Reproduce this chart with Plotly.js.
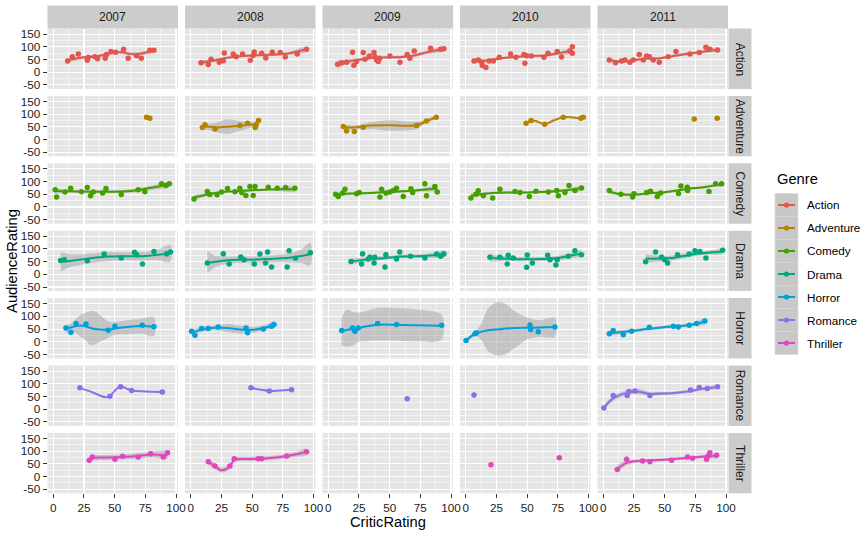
<!DOCTYPE html>
<html>
<head>
<meta charset="utf-8">
<script src="https://cdn.plot.ly/plotly-3.0.1.min.js"></script>
<style>html,body{margin:0;padding:0;background:#fff;}#chart{width:867px;height:534px;}</style>
</head>
<body>
<div id="chart"></div>
<script>
// ---------- data ----------
const years = [2007, 2008, 2009, 2010, 2011];
const genres = ["Action", "Adventure", "Comedy", "Drama", "Horror", "Romance", "Thriller"];
const genreColors = ["#E3564E", "#B58300", "#43A000", "#00A87F", "#00A0D8", "#8E6FE8", "#E146BE"];
const xTicks = [0, 25, 50, 75, 100];
const yTicks = [-50, 0, 50, 100, 150];
const xTickText = ["0", "25", "50", "75", "100"];
const yTickText = ["-50", "0", "50", "100", "150"];

// Action
const actionX = [
  [11.7,15.5,20.4,27.7,28.5,33.9,36.1,42.3,43.4,47,50.8,57.3,61,67.9,71.7,78.7,82],
  [8.3,14.3,16.5,23.2,26.5,27.3,34.6,37,42.2,48.5,50.9,51.7,57.7,61.1,66.4,72.9,77,86.7,94.3],
  [7.6,10.9,15,19.8,20.9,23,28.5,29.9,33.4,37.2,38,39.4,40.7,42,50.2,58.4,64.3,66.5,70,83.3,91.5,94.2],
  [6.7,10.2,12.9,13.5,16.4,19.1,22.4,27.3,36.5,40.9,47.4,48.2,49.6,53.4,63.7,67,74.5,78,84.8,86.8,86.8],
  [4.9,10,14.9,17.6,21.7,24.4,29.3,32.6,35.3,37.5,40.7,45.6,52.9,59.2,70.6,78.2,83.6,86.9,93.1]
];
const actionY = [
  [44,61,72,47,58,61,53,55,70,81,78,90,55,65,55,86,86],
  [37.5,30,51,39,45,75.6,72,61,72,47,66,79.5,74,56,78,77,60,72,90],
  [31,37.5,39,78,27,41.5,77,50.7,64,77,61,48,41.5,55,64,39,70,55,83,94,90,92],
  [44,48,39,26,18,44,44,58.5,71.6,58.5,70,35,65,64,58.5,74,81,60,83,100,74],
  [48,37.5,44,48,39,48,70,48,64,61,48,39,61,81,72,77,98,90,87]
];
const actionFitX = [
  [11.7,20,28,36,44,50,57,62,70,76,82],
  [8.3,20,30,40,50,60,70,80,94.3],
  [7.6,15,23,34,45,58,70,80,94.2],
  [6.7,15,25,35,45,55,65,75,86.8],
  [4.9,15,25,35,45,55,65,75,85,93.1]
];
const actionFitY = [
  [47,55,60,63,72,78,78,72,72,78,86],
  [38,47,57,63,66,68,70,74,90],
  [32,41,48,55,58,59,66,78,91],
  [45,45,52,58,62,64,66,74,84],
  [47,42,47,54,54,62,70,76,83,88]
];
const actionFitLo = [
  [37,48,54,57,66,72,72,66,65,70,76],
  [28,41,52,58,61,63,65,68,80],
  [14,31,42,50,53,53,60,71,82],
  [35,38,46,53,57,59,61,68,74],
  [39,37,42,49,49,57,65,71,77,80]
];
const actionFitHi = [
  [57,62,66,69,78,84,84,78,79,86,96],
  [48,53,62,68,71,73,75,80,100],
  [50,51,54,60,63,65,72,85,100],
  [55,52,58,63,67,69,71,80,94],
  [55,47,52,59,59,67,75,81,89,96]
];

// Adventure
const adventureX = [[76,78.7],[9.4,11.6,19.7,40,46.2,52.5,53.3,55.2],[12.2,14.9,21.2,28.5,72,80,88],[49.1,53.2,64.3,79.4,93.8,95.7],[74.1,92.8]];
const adventureY = [[88,84],[47,58,42,55,64,47,58,75],[51,34,31.5,48.5,55,73.5,88],[64,75,60,88,84,88],[81,84]];
const adventureFitX = [null,[9.4,15,20,30,40,47,53,55.2],[12.2,23,34,50,72,80,88],[49.1,53.2,57.2,64.3,71.3,79.4,86.1,93.8,95.7],null];
const adventureFitY = [null,[52,50,48,50,54,58,62,73],[48,48,55,56,56,73,88],[64,75,73,60,75,88,88,84,88],null];
const adventureFitLo = [null,[40,38,30,22,35,45,50,62],[38,40,42,35,42,66,82],null,null];
const adventureFitHi = [null,[64,62,66,80,73,70,74,84],[58,56,68,76,70,80,94],null,null];

// Comedy
const comedyX = [
  [1.6,2.7,9.5,14.1,23,27.7,30.4,32.6,40.2,42.9,55.4,69.2,74.6,88.2,91.8,94.5],
  [2.6,13.5,15.6,21.4,25.1,29.9,36,40,41.5,44.9,48.2,50.9,52.3,63.1,70.4,77.2,84.8],
  [6,8.1,11.7,13.6,23.1,25.2,42.1,43.4,47,50.2,52.9,55.6,61.1,67.3,68.7,78.7,80,86.8,88.8],
  [4.2,8.3,10.2,14.3,21.9,27.8,40.1,44.2,51.8,57.2,67.3,74.1,75.4,80.8,84.1,89,94.3],
  [4.9,14.4,23.9,25,35.3,38.5,44,46.7,61.3,63.2,68.4,68.7,86.1,91.5,96.4]
];
const comedyY = [
  [68,39,58.5,74,60,77,44,58.5,54.6,73,49,68,60,91,85,91],
  [31,61,49,48,58.5,73,60,74,57,45,81,45,81,78,74,77,74],
  [50.5,41,54.6,70,52,57,39,70,54.6,58.5,65,74,41,72,57,91,44,81,58.5],
  [35,50.5,64,44,35,70,61,57,41,62,58.5,65,44,57,85,65,75],
  [65,50.5,39,52,57,62,41,54.6,53,83,78,65,61,91,91]
];
const comedyFitX = [
  [1.6,10,20,30,40,50,60,70,80,94.5],
  [2.6,10,20,30,40,50,60,70,84.8],
  [6,15,25,35,45,55,65,75,88.8],
  [4.2,15,25,35,45,55,65,75,85,94.3],
  [4.9,12,20,30,40,50,60,70,80,90,96.4]
];
const comedyFitY = [
  [63,62,61,60,60,60,62,67,76,88],
  [37,45,55,61,63,66,68,70,70],
  [50,52,54,55,58,60,63,67,73],
  [45,52,56,57,57,58,60,63,68,74],
  [60,52,48,50,55,58,65,72,77,84,90]
];
const comedyFitLo = [
  [52,55,55,54,54,54,55,59,68,78],
  [25,38,49,56,58,61,63,64,60],
  [42,46,49,50,53,55,58,61,64],
  [35,46,51,52,52,53,55,58,62,64],
  [50,46,43,45,50,53,60,67,72,78,80]
];
const comedyFitHi = [
  [74,69,67,66,66,66,69,75,84,98],
  [49,52,61,66,68,71,73,76,80],
  [58,58,59,60,63,65,68,73,82],
  [55,58,61,62,62,63,65,68,74,84],
  [70,58,53,55,60,63,70,77,82,90,100]
];

// Drama
const dramaX = [
  [6,9,27.7,41.5,55.4,66.2,67.9,72.7,82,92.3,95.5],
  [13.5,26.5,31.3,40.8,43.4,51.7,56.3,60.9,62.6,65.8,78.5,80.1,85.2,97.4],
  [18.5,27.1,27.9,32.6,33.9,37.3,37.9,46.2,46.9,55.6,58.2,67,78.7,88.2,91.5,94.2],
  [19.7,27.8,33.8,34.6,38.7,49.6,50.1,54.2,66.7,68.6,73.4,74.5,83.5,88.9,94.3],
  [34.5,42.6,47.5,50,52.4,60.5,70,74.6,78.7,83.6,97.2]
];
const dramaY = [
  [55,58,54,80,64,87,77,41,90.5,81,88],
  [44.6,81,40.7,68,57.7,40.7,80,44.6,88,29,29,93,63,85],
  [51,40.7,81,60,67,44.6,67,29,77.4,60,88,71,64,80,71,81],
  [67,67,40.7,75,64,27.6,76,44.6,75,57.7,36.7,57.7,71,93,77.4],
  [50,88,67,57.7,44.6,77.4,80,93,90.5,64,94.5]
];
const dramaFitX = [
  [6,15,25,35,45,55,65,75,85,95.5],
  [13.5,20,30,40,50,60,70,80,90,97.4],
  [18.5,30,40,50,58,70,80,94.2],
  [19.7,30,40,50,60,70,80,90,94.3],
  [34.5,45,55,65,75,85,97.2]
];
const dramaFitY = [
  [50,54,60,66,70,71,71,72,77,82],
  [45,50,56,58,58,60,62,65,72,80],
  [51,58,62,66,70,71,73,80],
  [64,62,60,60,60,62,68,78,82],
  [62,62,64,72,80,85,90]
];
const dramaFitLo = [
  [12,30,40,48,52,55,55,55,56,50],
  [5,28,42,45,46,47,48,48,45,35],
  [40,50,55,59,63,64,65,68],
  [50,52,52,52,52,54,58,66,68],
  [45,50,54,62,72,77,80]
];
const dramaFitHi = [
  [88,78,80,84,88,87,87,89,98,116],
  [95,72,70,71,70,73,76,82,99,125],
  [62,66,69,73,77,78,81,92],
  [78,72,68,68,68,70,78,90,96],
  [79,74,74,82,88,93,100]
];

// Horror
const horrorX = [
  [10.3,14.4,18.5,26.6,44.8,50.2,72.5,82],
  [0.7,3.4,8.8,14.2,22.3,45,46.3,59.1,65.9,67.8],
  [10.9,19.8,21.7,24.4,40.2,55.6,92.3],
  [0.2,7.5,8.8,52.3,52.8,59,72.6],
  [4.9,8.1,16.3,23.1,37.5,57,61.1,70,76,82.8]
];
const horrorY = [
  [54,37,72,70,45,61,65,59],
  [41,26,52,52,58.5,54.6,35,50.5,61,67.7],
  [44,54.6,41,54.6,71.6,67.7,65],
  [5,32,35,66,48,39,58.5],
  [32,44,28,41,57,61,58.5,65,71.6,82]
];
const horrorFitX = [
  [10.3,14,18.5,22,26.6,30,34,38,44.8,50.2,60,72.5,82],
  [0.7,5,10,20,30,40,50,60,67.8],
  [10.9,15,19.8,24.4,30,40.2,55.6,70,92.3],
  [0.2,4,8,13,18,25,32,40,50,60,72.6],
  [4.9,15,25,35,45,55,65,75,82.8]
];
const horrorFitY = [
  [50,56,62,64,60,55,50,48,48,52,58,62,58],
  [36,42,50,55,54,48,47,55,67],
  [40,46,50,53,60,67,67,65,63],
  [5,20,32,40,45,48,52,54,55,56,58],
  [33,38,43,50,55,60,63,70,80]
];
const horrorFitLo = [
  [35,40,34,20,5,-12,-10,0,16,28,30,32,22],
  [25,32,40,45,38,32,35,45,55],
  [-15,-20,-15,0,2,5,5,2,8],
  [-4,12,24,5,-35,-54,-50,-25,10,20,20],
  [22,30,36,44,49,53,56,62,68]
];
const horrorFitHi = [
  [65,72,90,105,115,120,120,105,80,78,85,92,98],
  [47,52,60,65,70,64,59,65,79],
  [95,127,118,114,120,133,133,128,107],
  [14,28,40,75,130,156,150,120,95,85,95],
  [44,46,50,56,61,67,70,78,92]
];

// Romance
const romanceX = [[21.7,46.1,54.8,63.8,88.8],[49,64,82.1],[64.3],[6.7],[0.5,8.1,19.5,20.9,25.8,38,71.1,78.2,84.7,93.1]];
const romanceY = [[84,51,88,73.5,68],[84,72,76],[40.7],[56],[5,54,54,70,72,54,75,85,81,88]];
const romanceFitX = [[21.7,30,38,42.3,46.1,50,54.8,60,63.8,75,88.8],[49,56,64,72,82.1],null,null,[0.5,5,10,15,20,25,30,38,50,60,71,80,93.1]];
const romanceFitY = [[84,70,54,47,51,72,90,80,73.5,70,68],[84,77,72,73,76],null,null,[5,30,48,58,65,70,68,60,62,65,71,79,87]];
const romanceFitLo = [null,null,null,null,[-5,20,38,48,55,60,58,52,56,59,65,73,80]];
const romanceFitHi = [null,null,null,null,[15,40,58,68,75,80,78,68,68,71,77,85,94]];

// Thriller
const thrillerX = [[29.3,31.8,50.2,56.5,69.2,79.3,89.6,93.1],[14.3,19.7,31.9,35.4,55,57.7,78.1,94.3],null,[20.5,76.2],[11.4,19,32,38,55.6,68.7,72.7,84.1,85.5,86.8,92.3]];
const thrillerY = [[64,77,68,79.5,77,90,77,94],[58.5,41.5,41.5,70,70,70,81,98],null,[46.7,74],[28,67.7,61,58.5,64,77,72,67.7,81,94,83.5]];
const thrillerFitX = [[29.3,32,40,50,60,70,80,93.1],[14.3,19.7,24,28,31.9,35.4,45,55,65,78.1,86,94.3],null,null,[11.4,18,25,35,45,55,65,75,85,92.3]];
const thrillerFitY = [[64,73,75,76,78,82,87,84],[58,41,26,28,40,66,69,70,73,81,88,97],null,null,[30,52,60,63,65,68,72,76,80,82]];
const thrillerFitLo = [[52,62,65,66,68,71,76,70],[46,31,16,18,30,56,61,62,65,72,78,84],null,null,[15,42,53,57,59,62,66,70,73,72]];
const thrillerFitHi = [[76,84,85,86,88,93,98,98],[70,51,36,38,50,76,77,78,81,90,98,110],null,null,[45,62,67,69,71,74,78,82,87,92]];

const pointsX = [actionX, adventureX, comedyX, dramaX, horrorX, romanceX, thrillerX];
const pointsY = [actionY, adventureY, comedyY, dramaY, horrorY, romanceY, thrillerY];
const fitsX = [actionFitX, adventureFitX, comedyFitX, dramaFitX, horrorFitX, romanceFitX, thrillerFitX];
const fitsY = [actionFitY, adventureFitY, comedyFitY, dramaFitY, horrorFitY, romanceFitY, thrillerFitY];
const fitsLo = [actionFitLo, adventureFitLo, comedyFitLo, dramaFitLo, horrorFitLo, romanceFitLo, thrillerFitLo];
const fitsHi = [actionFitHi, adventureFitHi, comedyFitHi, dramaFitHi, horrorFitHi, romanceFitHi, thrillerFitHi];

// ---------- layout geometry ----------
const W = 867, H = 534;
const FONT = "Liberation Sans, Arial, sans-serif";
const colLeft = 47.5, colW = 130.5, colGap = 7;
const rowTop = 28.5, rowH = 60.4, rowGap = 7;
const stripH = 23;
const px = v => v / W;
const py = v => 1 - v / H;

const traces = [];
const shapes = [];
const annotations = [];
const layout = {
  width: W, height: H,
  margin: {l: 0, r: 0, t: 0, b: 0},
  paper_bgcolor: "#FFFFFF",
  plot_bgcolor: "#E5E5E5",
  showlegend: false,
  font: {family: FONT, color: "#1A1A1A"},
  shapes: shapes,
  annotations: annotations
};

genres.forEach((g, r) => {
  years.forEach((yr, c) => {
    const k = r * years.length + c + 1;
    const sfx = k === 1 ? "" : String(k);
    const xa = "x" + sfx, ya = "y" + sfx;
    // empty trace so every panel is drawn, even without data
    traces.push({type: "scatter", mode: "markers", xaxis: xa, yaxis: ya, x: [null], y: [null], hoverinfo: "skip"});
    const fx = fitsX[r][c], fy = fitsY[r][c], lo = fitsLo[r][c], hi = fitsHi[r][c];
    if (fx && lo && hi) {
      traces.push({
        type: "scatter", mode: "lines", xaxis: xa, yaxis: ya,
        x: fx.concat(fx.slice().reverse()),
        y: hi.concat(lo.slice().reverse()),
        fill: "toself", fillcolor: "rgba(153,153,153,0.45)",
        line: {width: 0, shape: "spline", smoothing: 0.8}, hoverinfo: "skip"
      });
    }
    if (fx) {
      traces.push({
        type: "scatter", mode: "lines", xaxis: xa, yaxis: ya,
        x: fx, y: fy,
        line: {color: genreColors[r], width: 2, shape: "spline", smoothing: 0.8}, hoverinfo: "skip"
      });
    }
    if (pointsX[r][c]) {
      traces.push({
        type: "scatter", mode: "markers", xaxis: xa, yaxis: ya,
        x: pointsX[r][c], y: pointsY[r][c],
        marker: {color: genreColors[r], size: 5.5, line: {width: 0}}
      });
    }
    const left = colLeft + c * (colW + colGap);
    const top = rowTop + r * (rowH + rowGap);
    const showX = r === genres.length - 1;
    const showY = c === 0;
    layout["xaxis" + sfx] = {
      domain: [px(left), px(left + colW)], anchor: ya,
      range: [-4.7, 101.6], tickmode: "array", tickvals: xTicks, ticktext: xTickText,
      showticklabels: showX, ticks: showX ? "outside" : "", ticklen: 4, tickwidth: 1, tickcolor: "#333333",
      tickfont: {family: FONT, size: 11.7, color: "#222222"},
      showgrid: true, gridcolor: "#FFFFFF", gridwidth: 1.1, zeroline: false, showline: false,
      minor: {tickmode: "array", tickvals: [12.5, 37.5, 62.5, 87.5], showgrid: true, gridcolor: "#FFFFFF", gridwidth: 0.55, ticks: ""},
      fixedrange: true
    };
    layout["yaxis" + sfx] = {
      domain: [py(top + rowH), py(top)], anchor: xa,
      range: [-66, 172], tickmode: "array", tickvals: yTicks, ticktext: yTickText,
      showticklabels: showY, ticks: showY ? "outside" : "", ticklen: 4, tickwidth: 1, tickcolor: "#333333",
      tickfont: {family: FONT, size: 11.7, color: "#222222"},
      showgrid: true, gridcolor: "#FFFFFF", gridwidth: 1.1, zeroline: false, showline: false,
      minor: {tickmode: "array", tickvals: [-25, 25, 75, 125], showgrid: true, gridcolor: "#FFFFFF", gridwidth: 0.55, ticks: ""},
      fixedrange: true
    };
  });
});

// top strips (years)
years.forEach((yr, c) => {
  const left = colLeft + c * (colW + colGap);
  shapes.push({type: "rect", xref: "paper", yref: "paper", x0: px(left), x1: px(left + colW),
    y0: py(rowTop), y1: py(rowTop - stripH), fillcolor: "#CCCCCC", line: {width: 0}, layer: "below"});
  annotations.push({xref: "paper", yref: "paper", x: px(left + colW / 2), y: py(rowTop - stripH / 2),
    text: String(yr), showarrow: false, xanchor: "center", yanchor: "middle",
    font: {family: FONT, size: 12, color: "#1A1A1A"}});
});
// right strips (genres)
const stripLeft = colLeft + 5 * colW + 4 * colGap + 0.5;
genres.forEach((g, r) => {
  const top = rowTop + r * (rowH + rowGap);
  shapes.push({type: "rect", xref: "paper", yref: "paper", x0: px(stripLeft), x1: px(stripLeft + stripH),
    y0: py(top + rowH), y1: py(top), fillcolor: "#CCCCCC", line: {width: 0}, layer: "below"});
  annotations.push({xref: "paper", yref: "paper", x: px(stripLeft + stripH / 2), y: py(top + rowH / 2),
    text: g, textangle: 90, showarrow: false, xanchor: "center", yanchor: "middle",
    font: {family: FONT, size: 12, color: "#1A1A1A"}});
});

// axis titles
annotations.push({xref: "paper", yref: "paper", x: px(colLeft + (5 * colW + 4 * colGap) / 2), y: py(522),
  text: "CriticRating", showarrow: false, xanchor: "center", yanchor: "middle",
  font: {family: FONT, size: 14.7, color: "#000000"}});
annotations.push({xref: "paper", yref: "paper", x: px(12), y: py(rowTop + (7 * rowH + 6 * rowGap) / 2),
  text: "AudienceRating", textangle: -90, showarrow: false, xanchor: "center", yanchor: "middle",
  font: {family: FONT, size: 14.7, color: "#000000"}});

// legend
const legLeft = 775, legKeyW = 23, legKeyH = 23, legTop = 193.5;
annotations.push({xref: "paper", yref: "paper", x: px(legLeft), y: py(179),
  text: "Genre", showarrow: false, xanchor: "left", yanchor: "middle",
  font: {family: FONT, size: 14.7, color: "#000000"}});
genres.forEach((g, i) => {
  const t = legTop + i * legKeyH;
  const cy = t + legKeyH / 2;
  shapes.push({type: "rect", xref: "paper", yref: "paper", x0: px(legLeft), x1: px(legLeft + legKeyW),
    y0: py(t + legKeyH), y1: py(t), fillcolor: "#C8C8C8", line: {color: "#D8D8D8", width: 0.6}});
  shapes.push({type: "line", xref: "paper", yref: "paper", x0: px(legLeft + 3), x1: px(legLeft + legKeyW - 3),
    y0: py(cy), y1: py(cy), line: {color: genreColors[i], width: 2}});
  shapes.push({type: "circle", xref: "paper", yref: "paper", x0: px(legLeft + legKeyW / 2 - 2.6), x1: px(legLeft + legKeyW / 2 + 2.6),
    y0: py(cy + 2.6), y1: py(cy - 2.6), fillcolor: genreColors[i], line: {width: 0}});
  annotations.push({xref: "paper", yref: "paper", x: px(legLeft + legKeyW + 7), y: py(cy),
    text: g, showarrow: false, xanchor: "left", yanchor: "middle",
    font: {family: FONT, size: 11.7, color: "#000000"}});
});

Plotly.newPlot("chart", traces, layout, {displayModeBar: false, staticPlot: true});
</script>
</body>
</html>
